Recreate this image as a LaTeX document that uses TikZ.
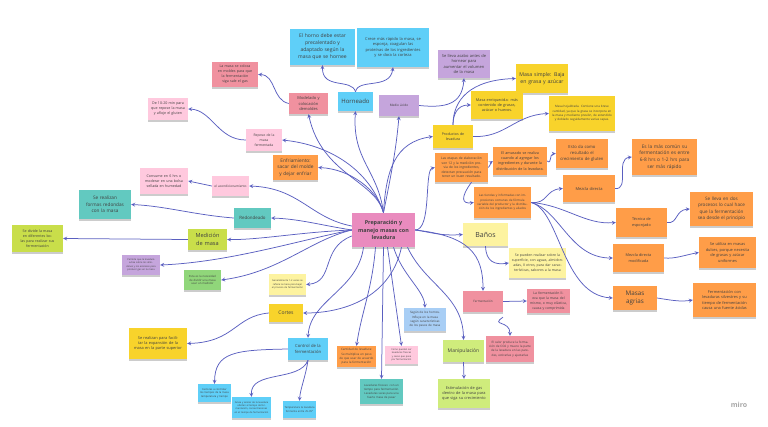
\documentclass[tikz,border=0pt]{standalone}
\usepackage{fontspec}
\setmainfont{Open Sans}
\usetikzlibrary{shadows}
\definecolor{nred}{HTML}{F0919F}
\definecolor{npink}{HTML}{FFC9DE}
\definecolor{nblue}{HTML}{5FCFF8}
\definecolor{npurple}{HTML}{C5A5DC}
\definecolor{nyellow}{HTML}{F8D32B}
\definecolor{norange}{HTML}{FF9D48}
\definecolor{npale}{HTML}{FDF3A0}
\definecolor{nteal}{HTML}{62C9C0}
\definecolor{nlime}{HTML}{C9DE4A}
\definecolor{ngreen}{HTML}{90D67A}
\definecolor{nlight}{HTML}{A8CEF5}
\definecolor{nmint}{HTML}{CFEC7C}
\definecolor{ncentre}{HTML}{E98BBE}
\definecolor{nline}{HTML}{5A5FC0}
\newcommand\nohyph{\lefthyphenmin=64\relax}
\tikzset{
	note/.style={rectangle,inner sep=0pt,align=center,text=black!75,
		drop shadow={shadow xshift=0pt,shadow yshift=-1.5pt,fill=black,opacity=0.2}},
	link/.style={draw=nline,line width=0.75pt,-stealth}
}
\begin{document}
\begin{tikzpicture}[x=1pt,y=-1pt]
	\useasboundingbox (0,0) rectangle (768,426);
	\foreach \nm/\xa/\ya/\xb/\yb/\col/\fsz/\txt in {
		main/352/213/415/247/ncentre/5.4/{\textbf{Preparación y\\manejo masas con\\levadura}},
		moldnote/212/62/258/87/nred/3.6/{La masa se coloca en moldes para que la fermentación siga sale el gas},
		restnote/148/98/188/120/npink/3.6/{De 10-20 min para que repose la masa y afloje el gluten},
		ovena/290/29/355/65/nblue/5/{El horno debe estar\\precalentado y\\adaptado según la\\masa que se hornee},
		ovenb/357/28/429/67/nblue/4/{Crece más rápido la masa, se\\esponja, coagulan las\\proteínas de los ingredientes\\y se dora la corteza},
		acidnote/438/50/490/78/npurple/4/{Se lleva acabo antes de\\hornear para\\aumentar el volumen\\de la masa},
		mold/289/93/328/114/nred/4/{Modelado y\\colocación\\demoldes},
		oven/338/92/373/111/nblue/6/{Horneado},
		acid/379/95/419/116/npurple/3.2/{Medio ácido},
		yeast/433/125/473/148/nyellow/3.6/{Productos de\\levadura},
		rest/246/129/282/151/npink/3.4/{Reposo de la\\masa\\fermentada},
		cool/273/155/318/180/norange/4.8/{Enfriamiento:\\sacar del molde\\y dejar enfriar},
		simple/516/64/568/93/nyellow/5.2/{Masa simple: Baja\\en grasa y azúcar},
		rich/471/91/523/119/nyellow/3.8/{Masa enriquecida: más contenido de grasas, azúcar o huevos.},
		mixed/549/96/615/131/nyellow/3/{Masa hojaldrada. Contiene una breve cantidad, ya que la grasa se incorpora en la masa y mediante presión, de extendido y doblado seguidamente varias capas.},
		stages/435/153/488/182/norange/3.3/{Las etapas de elaboración son 12 y la medición previa de los ingredientes, detectan precaución para tener un buen resultado.},
		knead/493/147/547/175/norange/3.7/{El amasado se realiza cuando al agregar los ingredientes y durante la distribución de la levadura.},
		gluten/556/139/608/168/norange/4.2/{Esto da como\\resultado el\\crecimiento de gluten},
		direct/563/175/615/202/norange/4/{Mezcla directa},
		formula/474/187/531/218/norange/3/{Las tiendas y informadas con impresiones comunes de fórmula variable del productor y la distribución de los ingredientes y aliados},
		directnote/632/139/697/175/norange/4.8/{Es la más común su\\fermentación es entre\\6-8 hrs o 1-2 hrs para\\ser más rápido},
		sponge/616/208/667/237/norange/3.8/{Técnica de\\esponjado},
		spongenote/690/192/753/226/norange/4.6/{Se lleva en dos\\procesos lo cual hace\\que la fermentación\\sea desde el principio},
		modified/613/244/664/272/norange/3.8/{Mezcla directa\\modificada},
		modnote/699/237/756/268/norange/3.9/{Se utiliza en masas\\dulces, porque necesita\\de grasas y azúcar\\uniformes},
		sour/613/286/657/310/norange/6.3/{Masas\\agrias},
		sournote/693/283/756/317/norange/3.9/{Fermentación con\\levaduras silvestres y su\\tiempo de fermentación\\causa una fuente ácidas},
		bath/463/223/508/246/npale/7/{Baños},
		bathnote/509/248/566/278/npale/3.5/{Se pueden realizar sobre la superficie, con aguas, almidonadas, II otros, para dar características, sabores a la masa},
		ferm/463/291/503/312/nred/3/{Fermentación},
		fermnote/527/289/570/313/nred/3.4/{La fermentación lleva que la masa del mismo, o muy elástica, causa y comprimida},
		keep/140/168/188/194/npink/3.6/{Consume en 6 hrs o moderar en una bolsa sellada en humedad},
		round/79/190/131/219/nteal/4.7/{Se realizan\\formas redondas\\con la masa},
		divide/12/225/63/252/nlime/3.6/{Se divide la masa en diferentes bolas para realizar sus\\fermentación},
		purple/122/255/160/275/npurple/2.4/{Permite que la levadura actúe sobre los almidones y los azúcares para producir gas en la masa},
		scale/184/270/221/290/ngreen/2.8/{Esta es la necesidad de dividir una masa usar un medidor},
		proof/212/176/249/196/npink/3.2/{el acondicionamiento},
		rounded/234/208/271/228/nteal/4.4/{Redondeado},
		measure/188/229/227/250/nlime/5.6/{Medición\\de masa},
		time/269/274/306/295/npale/2.4/{Generalmente 1-2 veces se refiere la masa para bajar el proceso de fermentación},
		cuts/269/304/303/322/nyellow/5/{Cortes},
		cutnote/129/328/187/359/nyellow/3.9/{Se realizan para facilitar la expansión de la masa en la parte superior},
		control/288/338/328/360/nblue/4.2/{Control de la\\fermentación},
		smalla/198/384/231/402/nblue/2.6/{Factores a controlar los tiempos de la masa temperatura y tiempo},
		smallb/232/397/271/418/nblue/2.4/{Grasa y azúcar de la levadura afectan al tiempo de fermentación, concentraciones en el tiempo de fermentación},
		smallc/283/401/316/418/nblue/2.6/{Temperatura la levadura fermenta entre 25-35°},
		qty/337/346/376/367/norange/3/{Cantidad de levadura: Se multiplica en peso de que usar de acuerdo para la fermentación},
		levain/360/379/403/404/nteal/2.8/{Levaduras frescas: con un tiempo para fermentación. Levaduras secas para una fuerte masa de pasar},
		fresh/385/346/418/364/npink/2.4/{Como pueden ser levaduras frescas y secas que pasa por fermentación},
		sizes/404/308/446/331/nlight/3/{Según de los hornos. Influye en la masa según características de los pasos de masa},
		handle/443/340/484/362/nmint/5/{Manipulación},
		handnote/438/379/490/408/nmint/3.9/{Estimulación de gas dentro de la masa para que siga su crecimiento},
		rednote/486/336/534/362/nred/3/{El calor produce la formación de CO2 y muere la parte de la levadura en las paredes, estirarlas y ajustarlas}%
	}{
		\pgfmathsetmacro\lsz{\fsz*1.4}
		\pgfmathsetmacro\wid{\xb-\xa}
		\pgfmathsetmacro\hei{\yb-\ya}
		\pgfmathsetmacro\twid{\wid-3}
		\path ({(\xa+\xb)/2},{(\ya+\yb)/2}) node[note,fill=\col,minimum width=\wid pt,minimum height=\hei pt,text width=\twid pt,font=\fontsize{\fsz pt}{\lsz pt}\selectfont\nohyph] (\nm) {\txt};
	}
	\node[text=black!35,font=\fontsize{7pt}{8pt}\selectfont\bfseries] (logo) at (739,405) {miro};
	% from the centre, top
	\draw[link] (main.north) .. controls (378,170) and (352,160) .. (oven.south);
	\draw[link] (main.north) .. controls (392,170) and (396,150) .. (acid.south);
	\draw[link] (main.north) .. controls (386,170) and (395,142) .. (yeast.west);
	\draw[link] (main.north) .. controls (375,180) and (322,175) .. (mold.south);
	\draw[link] (main.north) .. controls (370,170) and (330,145) .. (rest.east);
	\draw[link] (main.north) .. controls (378,190) and (350,169) .. (cool.east);
	% right side
	\draw[link] (main.east) .. controls (432,230) and (424,170) .. (stages.west);
	\draw[link] (main.east) .. controls (430,232) and (440,236) .. (bath.west);
	\draw[link] (main.east) .. controls (470,236) and (483,255) .. (ferm.north);
	% bottom
	\draw[link] (main.south) ++(24,0) .. controls (425,285) and (463,295) .. (handle.north);
	\draw[link] (main.south) ++(10,0) .. controls (402,275) and (424,290) .. (sizes.north);
	\draw[link] (main.south) ++(4,0) -- (fresh.north);
	\draw[link] (main.south) -- (levain.north);
	\draw[link] (main.south) ++(-8,0) .. controls (372,290) and (362,310) .. (qty.north);
	\draw[link] (main.south) ++(-20,0) .. controls (358,290) and (310,300) .. (control.north);
	\draw[link] (main.south) ++(18,0) .. controls (390,300) and (340,313) .. (cuts.east);
	\draw[link] (main.west) ++(0,6) .. controls (320,248) and (335,282) .. (time.east);
	% left side
	\draw[link] (main.west) .. controls (320,225) and (300,219) .. (rounded.east);
	\draw[link] (main.west) .. controls (300,232) and (260,240) .. (measure.east);
	\draw[link] (main.west) .. controls (310,240) and (280,272) .. (scale.east);
	\draw[link] (main.west) .. controls (300,240) and (230,262) .. (purple.east);
	\draw[link] (main.west) ++(0,-4) .. controls (310,218) and (300,188) .. (proof.east);
	% second level
	\draw[link] (oven.north) .. controls (352,78) and (322,90) .. (ovena.south);
	\draw[link] (oven.north) .. controls (358,78) and (390,90) .. (ovenb.south);
	\draw[link] (mold.west) .. controls (272,100) and (276,75) .. (moldnote.east);
	\draw[link] (rest.west) .. controls (218,140) and (212,110) .. (restnote.east);
	\draw[link] (acid.east) .. controls (445,108) and (462,105) .. (acidnote.south);
	\draw[link] (yeast.north) .. controls (453,100) and (470,80) .. (simple.west);
	\draw[link] (yeast.north) .. controls (453,115) and (457,105) .. (rich.west);
	\draw[link] (yeast.east) .. controls (505,138) and (515,115) .. (mixed.west);
	\draw[link] (stages.east) .. controls (491,165) and (490,163) .. (knead.west);
	\draw[link] (knead.east) .. controls (552,165) and (549,154) .. (gluten.west);
	\draw[link] (stages.south) ++(10,0) .. controls (460,198) and (462,204) .. (formula.west);
	\draw[link] (formula.east) .. controls (548,204) and (545,190) .. (direct.west);
	\draw[link] (formula.east) .. controls (565,205) and (585,225) .. (sponge.west);
	\draw[link] (formula.east) .. controls (560,210) and (570,258) .. (modified.west);
	\draw[link] (formula.east) .. controls (560,210) and (562,295) .. (sour.west);
	\draw[link] (direct.east) .. controls (630,190) and (615,159) .. (directnote.west);
	\draw[link] (sponge.east) .. controls (678,224) and (675,210) .. (spongenote.west);
	\draw[link] (modified.east) .. controls (675,259) and (685,255) .. (modnote.west);
	\draw[link] (sour.east) .. controls (670,300) and (680,302) .. (sournote.west);
	\draw[link] (bath.south) .. controls (486,262) and (495,265) .. (bathnote.west);
	\draw[link] (ferm.east) -- (fermnote.west);
	\draw[link] (ferm.south) ++(20,5) .. controls (490,326) and (510,320) .. (rednote.north);
	\draw[link] (handle.south) -- (handnote.north);
	\draw[link] (rounded.west) .. controls (195,215) and (165,206) .. (round.east);
	\draw[link] (measure.west) -- (divide.east);
	\draw[link] (proof.west) -- (keep.east);
	\draw[link] (cuts.west) .. controls (235,316) and (235,342) .. (cutnote.east);
	\draw[link] (control.west) .. controls (235,350) and (215,352) .. (smalla.north);
	\draw[link] (control.south) .. controls (300,382) and (250,370) .. (smallb.north);
	\draw[link] (control.south) .. controls (306,375) and (300,390) .. (smallc.north);
\end{tikzpicture}
\end{document}
